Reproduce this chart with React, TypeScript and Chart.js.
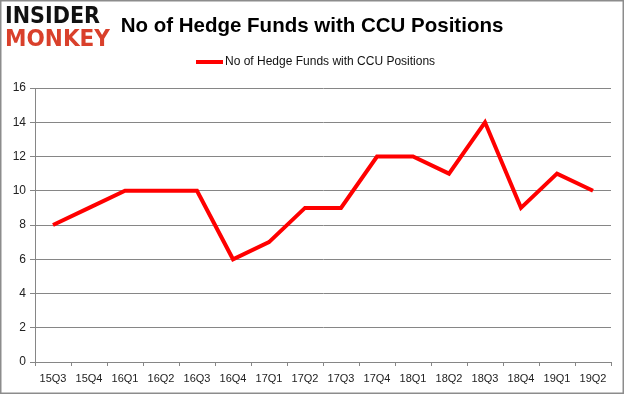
import React, { useEffect, useRef } from "react";
import { Chart, registerables } from "chart.js";

Chart.register(...registerables);

const categories = ["15Q3", "15Q4", "16Q1", "16Q2", "16Q3", "16Q4", "17Q1", "17Q2", "17Q3", "17Q4", "18Q1", "18Q2", "18Q3", "18Q4", "19Q1", "19Q2"];
const hedgeFunds = [8, 9, 10, 10, 10, 6, 7, 9, 9, 12, 12, 11, 14, 9, 11, 10];
const seriesLabel = "No of Hedge Funds with CCU Positions";
const titleText = "No of Hedge Funds with CCU Positions";
const yMin = 0;
const yMax = 16;
const yStep = 2;

const W = 625;
const H = 395;

const decorPlugin = {
  id: "decor",
  afterDraw(chart: any) {
    const ctx = chart.ctx as CanvasRenderingContext2D;
    ctx.save();
    // frame
    ctx.strokeStyle = "#8c8c8c";
    ctx.lineWidth = 1.5;
    ctx.strokeRect(0.75, 0.75, W - 2.5, H - 2.5);

    // title
    ctx.fillStyle = "#000";
    ctx.font = "bold 20.5px 'Liberation Sans', Arial, sans-serif";
    ctx.textAlign = "center";
    ctx.textBaseline = "middle";
    ctx.fillText(titleText, 312, 26);

    // legend
    ctx.strokeStyle = "#ff0000";
    ctx.lineWidth = 4;
    ctx.beginPath();
    ctx.moveTo(196, 62);
    ctx.lineTo(223, 62);
    ctx.stroke();
    ctx.fillStyle = "#111";
    ctx.font = "12px 'Liberation Sans', Arial, sans-serif";
    ctx.textAlign = "left";
    ctx.fillText(seriesLabel, 225, 62);

    // logo
    const drawFit = (text: string, x: number, yMid: number, w: number, size: number, color: string) => {
      ctx.font = `bold ${size}px 'DejaVu Sans', sans-serif`;
      const m = ctx.measureText(text).width;
      ctx.save();
      ctx.translate(x, yMid);
      ctx.scale(w / m, 1);
      ctx.fillStyle = color;
      ctx.textAlign = "left";
      ctx.textBaseline = "middle";
      ctx.fillText(text, 0, 0);
      ctx.restore();
    };
    drawFit("INSIDER", 5, 17, 95, 23, "#111");
    drawFit("MONKEY", 5, 40, 105, 23, "#d9402b");
    ctx.restore();
  },
};

export default function App() {
  const ref = useRef<HTMLCanvasElement>(null);
  useEffect(() => {
    const canvas = ref.current!;
    const chart = new Chart(canvas, {
      type: "line",
      data: {
        labels: categories,
        datasets: [
          {
            label: seriesLabel,
            data: hedgeFunds,
            borderColor: "#ff0000",
            backgroundColor: "#ff0000",
            borderWidth: 4,
            pointRadius: 0,
            tension: 0,
            fill: false,
          },
        ],
      },
      options: {
        animation: false,
        responsive: false,
        maintainAspectRatio: false,
        layout: { padding: { left: 0, right: 14, top: 88, bottom: 0 } },
        plugins: {
          legend: { display: false },
          title: { display: false },
          tooltip: { enabled: false },
        },
        scales: {
          x: {
            type: "category",
            offset: true,
            afterFit(scale: any) {
              scale.height = 33;
            },
            grid: {
              offset: true,
              drawOnChartArea: false,
              drawTicks: true,
              tickLength: 4,
              color: "#868686",
            },
            border: { color: "#868686", width: 1 },
            ticks: {
              color: "#222",
              font: { family: "'Liberation Sans', Arial, sans-serif", size: 11 },
              padding: 6,
              maxRotation: 0,
              autoSkip: false,
            },
          },
          y: {
            min: yMin,
            max: yMax,
            afterFit(scale: any) {
              scale.width = 35;
            },
            grid: {
              color: "#868686",
              tickLength: 5,
            },
            border: { color: "#868686", width: 1 },
            ticks: {
              stepSize: yStep,
              color: "#222",
              font: { family: "'Liberation Sans', Arial, sans-serif", size: 12 },
              padding: 4,
            },
          },
        },
      },
      plugins: [decorPlugin],
    });
    return () => chart.destroy();
  }, []);
  return (
    <div style={{ position: "fixed", left: 0, top: 0, width: W, height: H, background: "#fff" }}>
      <canvas ref={ref} width={W} height={H} style={{ width: W, height: H, display: "block" }} />
    </div>
  );
}
